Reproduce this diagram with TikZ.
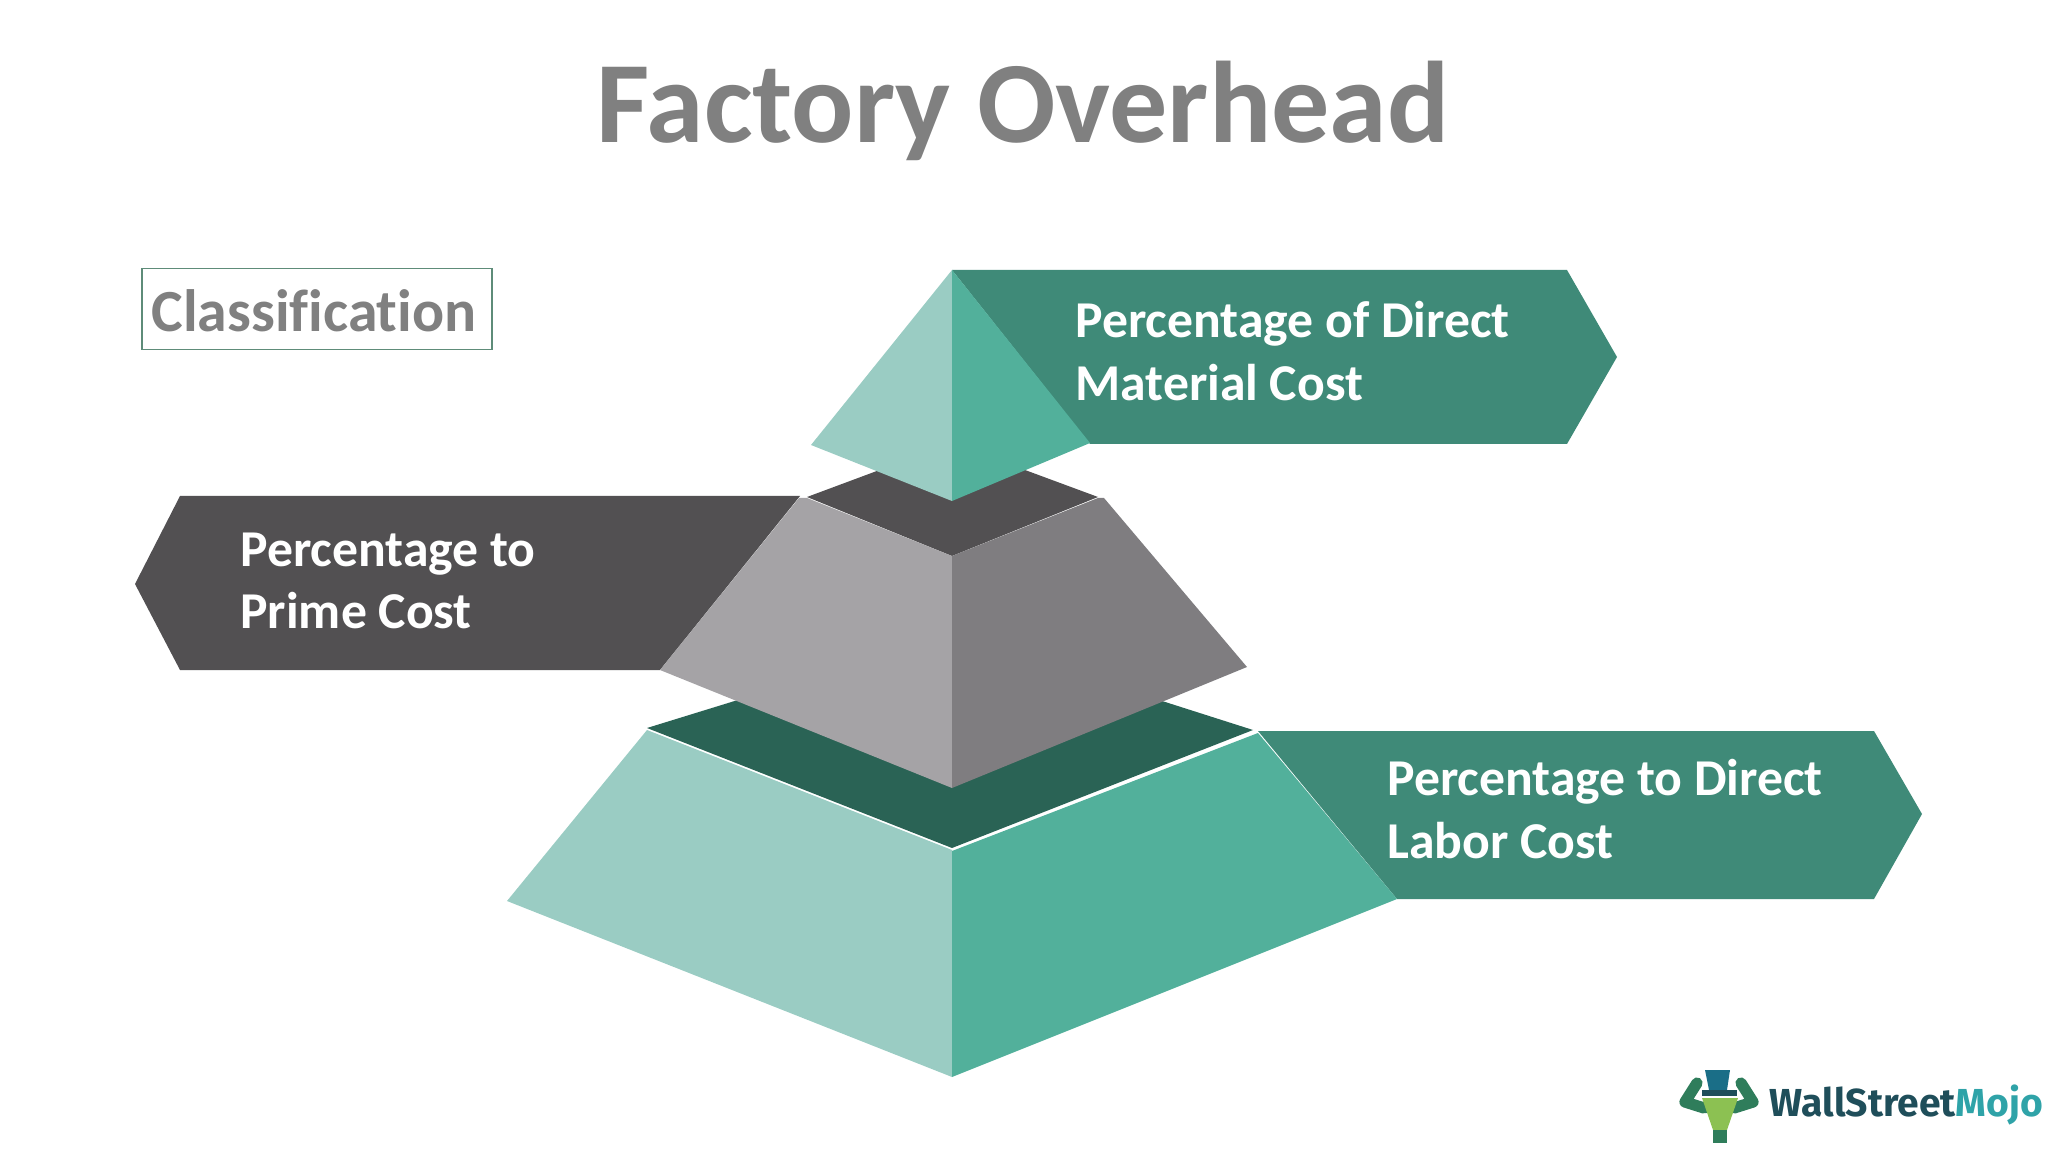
\documentclass[tikz,border=0pt]{standalone}
\usepackage{fontspec}
\setmainfont{Carlito}[Ligatures=NoCommon]
\newfontfamily\logofont{Fira Sans}
\usepackage{xcolor}
\usepackage{tikz}
\usetikzlibrary{positioning}

\definecolor{bannergreen}{HTML}{3F8A78}
\definecolor{lightgreen}{HTML}{9ACCC3}
\definecolor{midgreen}{HTML}{52B09B}
\definecolor{darkgreen}{HTML}{2A6355}
\definecolor{lightgrey}{HTML}{A5A3A6}
\definecolor{midgrey}{HTML}{7F7D80}
\definecolor{darkgrey}{HTML}{525052}
\definecolor{titlegrey}{HTML}{808080}
\definecolor{logodark}{HTML}{1F4E5A}
\definecolor{logoteal}{HTML}{2FA3A8}
\definecolor{logogreen}{HTML}{2F7D5B}
\definecolor{logolime}{HTML}{8CC152}
\definecolor{logohat}{HTML}{1A6E87}

\tikzset{
    steplabel/.style={anchor=west, align=left, text=white, font=\fontsize{14.7}{17.8}\selectfont\bfseries},
    logoarm/.style={draw=logogreen, line width=3.2pt, line cap=round, line join=round},
}

\begin{document}
\begin{tikzpicture}[x=0.01cm,y=-0.01cm]
    \useasboundingbox (0,0) rectangle (2048,1152);

    % Title
    \node[text=titlegrey, font=\fontsize{33}{40}\selectfont\bfseries] (title) at (1023,111) {Factory Overhead};

    % Classification
    \node[draw=logogreen!60!lightgrey, line width=0.5pt, minimum width=350*0.01cm, minimum height=81*0.01cm, inner sep=0pt] (classes) at (317,309) {};
    \node[text=titlegrey, inner sep=0pt, font=\fontsize{17}{18}\selectfont\bfseries] (classtext) at (314,311) {Classification};

    % Lower block
    \fill[bannergreen] (1258,731) -- (1874,731) -- (1922,814) -- (1874,899) -- (1397,899) -- cycle;
    \fill[darkgreen] (647,728) -- (952,634) -- (1253,730) -- (952,848) -- cycle;
    \fill[lightgreen] (647,730) -- (952,850) -- (952,1077) -- (507,901) -- cycle;
    \fill[midgreen] (952,851) -- (1258,733) -- (1397,899) -- (952,1077) -- cycle;
    \node[steplabel] (labour) at (1375,809) {Percentage to Direct\\Labor Cost};

    % Middle block
    \fill[darkgrey] (800,496) -- (180,496) -- (135,584) -- (180,670) -- (660,670) -- cycle;
    \fill[darkgrey] (807,497) -- (952,443) -- (1098,497) -- (952,556) -- cycle;
    \fill[lightgrey] (799,498) -- (807,498) -- (952,556) -- (952,788) -- (660,670) -- cycle;
    \fill[midgrey] (952,556) -- (1098,498) -- (1104,498) -- (1247,667) -- (952,788) -- cycle;
    \node[steplabel] (prime) at (228,581) {Percentage to\\Prime Cost};

    % Top block
    \fill[bannergreen] (952,270) -- (1567,270) -- (1617,357) -- (1567,444) -- (1090,444) -- cycle;
    \fill[lightgreen] (952,270) -- (952,501) -- (811,445) -- cycle;
    \fill[midgreen] (952,270) -- (1090,443) -- (952,501) -- cycle;
    \node[steplabel] (material) at (1063,351) {Percentage of Direct\\Material Cost};

    % Logo
    \draw[logoarm] (1697,1083) -- (1685,1102) -- (1704,1108);
    \draw[logoarm] (1741,1083) -- (1753,1102) -- (1734,1108);
    \fill[logolime] (1702,1098) -- (1738,1098) -- (1727,1130) -- (1713,1130) -- cycle;
    \fill[logogreen] (1713,1130) rectangle (1727,1143);
    \fill[logohat] (1705,1070) -- (1730,1070) -- (1727,1090) -- (1709,1090) -- cycle;
    \fill[logodark] (1702,1090) rectangle (1737,1096);
    \node[anchor=west, inner sep=0pt, font=\logofont\fontsize{11.1}{12}\selectfont\bfseries] (brand) at (1769,1105) {\textcolor{logodark}{WallStreet}\textcolor{logoteal}{Mojo}};
\end{tikzpicture}
\end{document}
